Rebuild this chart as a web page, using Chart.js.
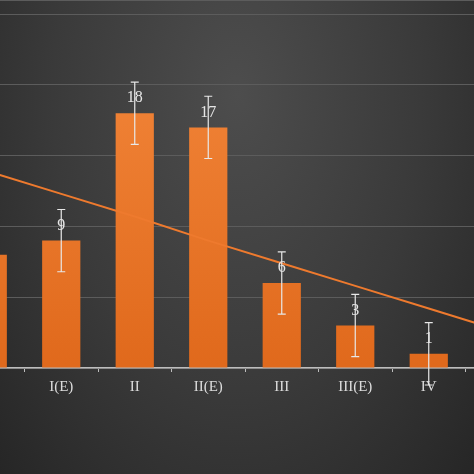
<!DOCTYPE html>
<html><head><meta charset="utf-8">
<script src="https://cdn.jsdelivr.net/npm/chart.js@4"></script>
<style>
html,body{margin:0;padding:0;width:474px;height:474px;overflow:hidden;
 background:radial-gradient(ellipse at 50% 20%,#4d4d4d 0%,#3a3a3a 55%,#262626 100%);}
#wrap{position:absolute;left:-49px;top:0;width:588px;height:474px;}
</style></head>
<body><div id="wrap"><canvas id="c" width="588" height="474"></canvas></div>
<script>
const categories=['I','I(E)','II','II(E)','III','III(E)','IV','IV(E)'];
const counts=[8,9,18,17,6,3,1,0];
const errors=[2.2,2.2,2.2,2.2,2.2,2.2,2.2,0];
const trend=[13.9,12.3,10.7,9.0,7.4,5.8,4.2,2.6];

// error bars + value labels drawn with the chart's own scales
const errPlugin={
  id:'err',
  afterDatasetsDraw(chart){
    const ctx=chart.ctx, x=chart.scales.x, y=chart.scales.y;
    ctx.save();
    counts.forEach((v,i)=>{
      if(!v) return;
      const cx=x.getPixelForValue(i);
      const t=y.getPixelForValue(v+errors[i]), b=y.getPixelForValue(v-errors[i]);
      ctx.strokeStyle='#e8e8e8';ctx.lineWidth=1.2;
      ctx.beginPath();
      ctx.moveTo(cx,t);ctx.lineTo(cx,b);
      ctx.moveTo(cx-4,t);ctx.lineTo(cx+4,t);
      ctx.moveTo(cx-4,b);ctx.lineTo(cx+4,b);
      ctx.stroke();
      ctx.fillStyle='#e6e6e6';ctx.font='16px "Liberation Serif"';
      ctx.textAlign='center';ctx.textBaseline='bottom';
      ctx.fillText(v,cx,y.getPixelForValue(v)-7);
    });
    ctx.restore();
  }
};

const ctx=document.getElementById('c').getContext('2d');
const grad=ctx.createLinearGradient(0,0,0,368);
grad.addColorStop(0,'#f58a3e');grad.addColorStop(1,'#e0691c');

new Chart(ctx,{
  type:'bar',
  data:{labels:categories,datasets:[
    {type:'line',data:trend,borderColor:'#ee7a2e',borderWidth:2,pointRadius:0,order:0},
    {data:counts,backgroundColor:grad,barPercentage:0.52,categoryPercentage:1,order:1}
  ]},
  options:{
    responsive:false,animation:false,devicePixelRatio:1,
    layout:{padding:0},
    plugins:{legend:{display:false},tooltip:{enabled:false}},
    scales:{
      x:{offset:true,
         grid:{display:true,drawOnChartArea:false,color:'#bdbdbd',tickLength:4,offset:true},
         border:{color:'#bdbdbd',width:1.5},
         ticks:{color:'#dcdcdc',font:{family:'Liberation Serif',size:15},padding:6},
         afterFit(a){a.height=106;}},
      y:{min:0,max:26,
         ticks:{display:false,stepSize:5},
         grid:{color:'#5c5c5c',drawTicks:false},
         border:{display:false},
         afterFit(a){a.width=0;}}
    }
  },
  plugins:[errPlugin]
});
</script>
</body></html>
